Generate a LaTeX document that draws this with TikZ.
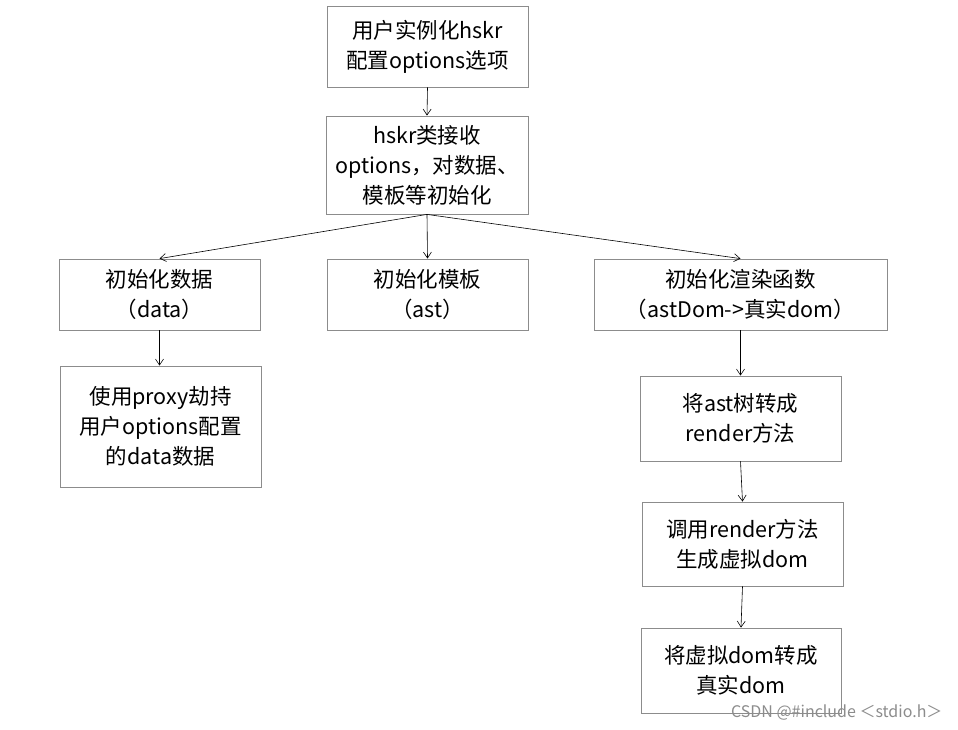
\documentclass[tikz,border=0pt]{standalone}
\usepackage{fontspec}
\setmainfont{Noto Sans CJK SC}
\usetikzlibrary{arrows.meta}
\begin{document}
\begin{tikzpicture}[x=1pt,y=-1pt,
  bx/.style={draw=black!45,line width=0.8pt,fill=white,align=center,font=\fontsize{21.5}{30}\selectfont,inner sep=0pt},
  ar/.style={-{Straight Barb[length=6pt,width=8pt]},line width=0.6pt}]
\useasboundingbox (0,0) rectangle (958,730);
\newcommand\bxat[6]{\node[bx,minimum width=#3-#2,minimum height=#5-#4] (#1) at ({(#2+#3)/2},{(#4+#5)/2}) {#6};}
\bxat{a}{327}{528}{6}{87}{用户实例化hskr\\配置options选项}
\bxat{b}{326}{528}{116}{214}{hskr类接收\\options，对数据、\\模板等初始化}
\bxat{c}{59}{260}{259}{330}{初始化数据\\（data）}
\bxat{d}{327}{528}{259}{330}{初始化模板\\（ast）}
\bxat{e}{594}{887}{259}{330}{初始化渲染函数\\（astDom->真实dom）}
\bxat{f}{60}{261}{366}{487}{使用proxy劫持\\用户options配置\\的data数据}
\bxat{g}{640}{841}{376}{461}{将ast树转成\\render方法}
\bxat{h}{642}{843}{502}{586}{调用render方法\\生成虚拟dom}
\bxat{i}{641}{841}{628}{713}{将虚拟dom转成\\真实dom}
\draw[ar] (a.south) -- (b.north);
\draw[ar] (b.south) -- (c.north);
\draw[ar] (b.south) -- (d.north);
\draw[ar] (b.south) -- (e.north);
\draw[ar] (c.south) -- (c.south |- f.north);
\draw[ar] (e.south) -- (e.south |- g.north);
\draw[ar] (g.south) -- (h.north);
\draw[ar] (h.south) -- (i.north);
\node[text=black!45,font=\fontsize{16}{18}\selectfont,anchor=east] (w) at (946,713) {CSDN @\#include ＜stdio.h＞};
\end{tikzpicture}
\end{document}
